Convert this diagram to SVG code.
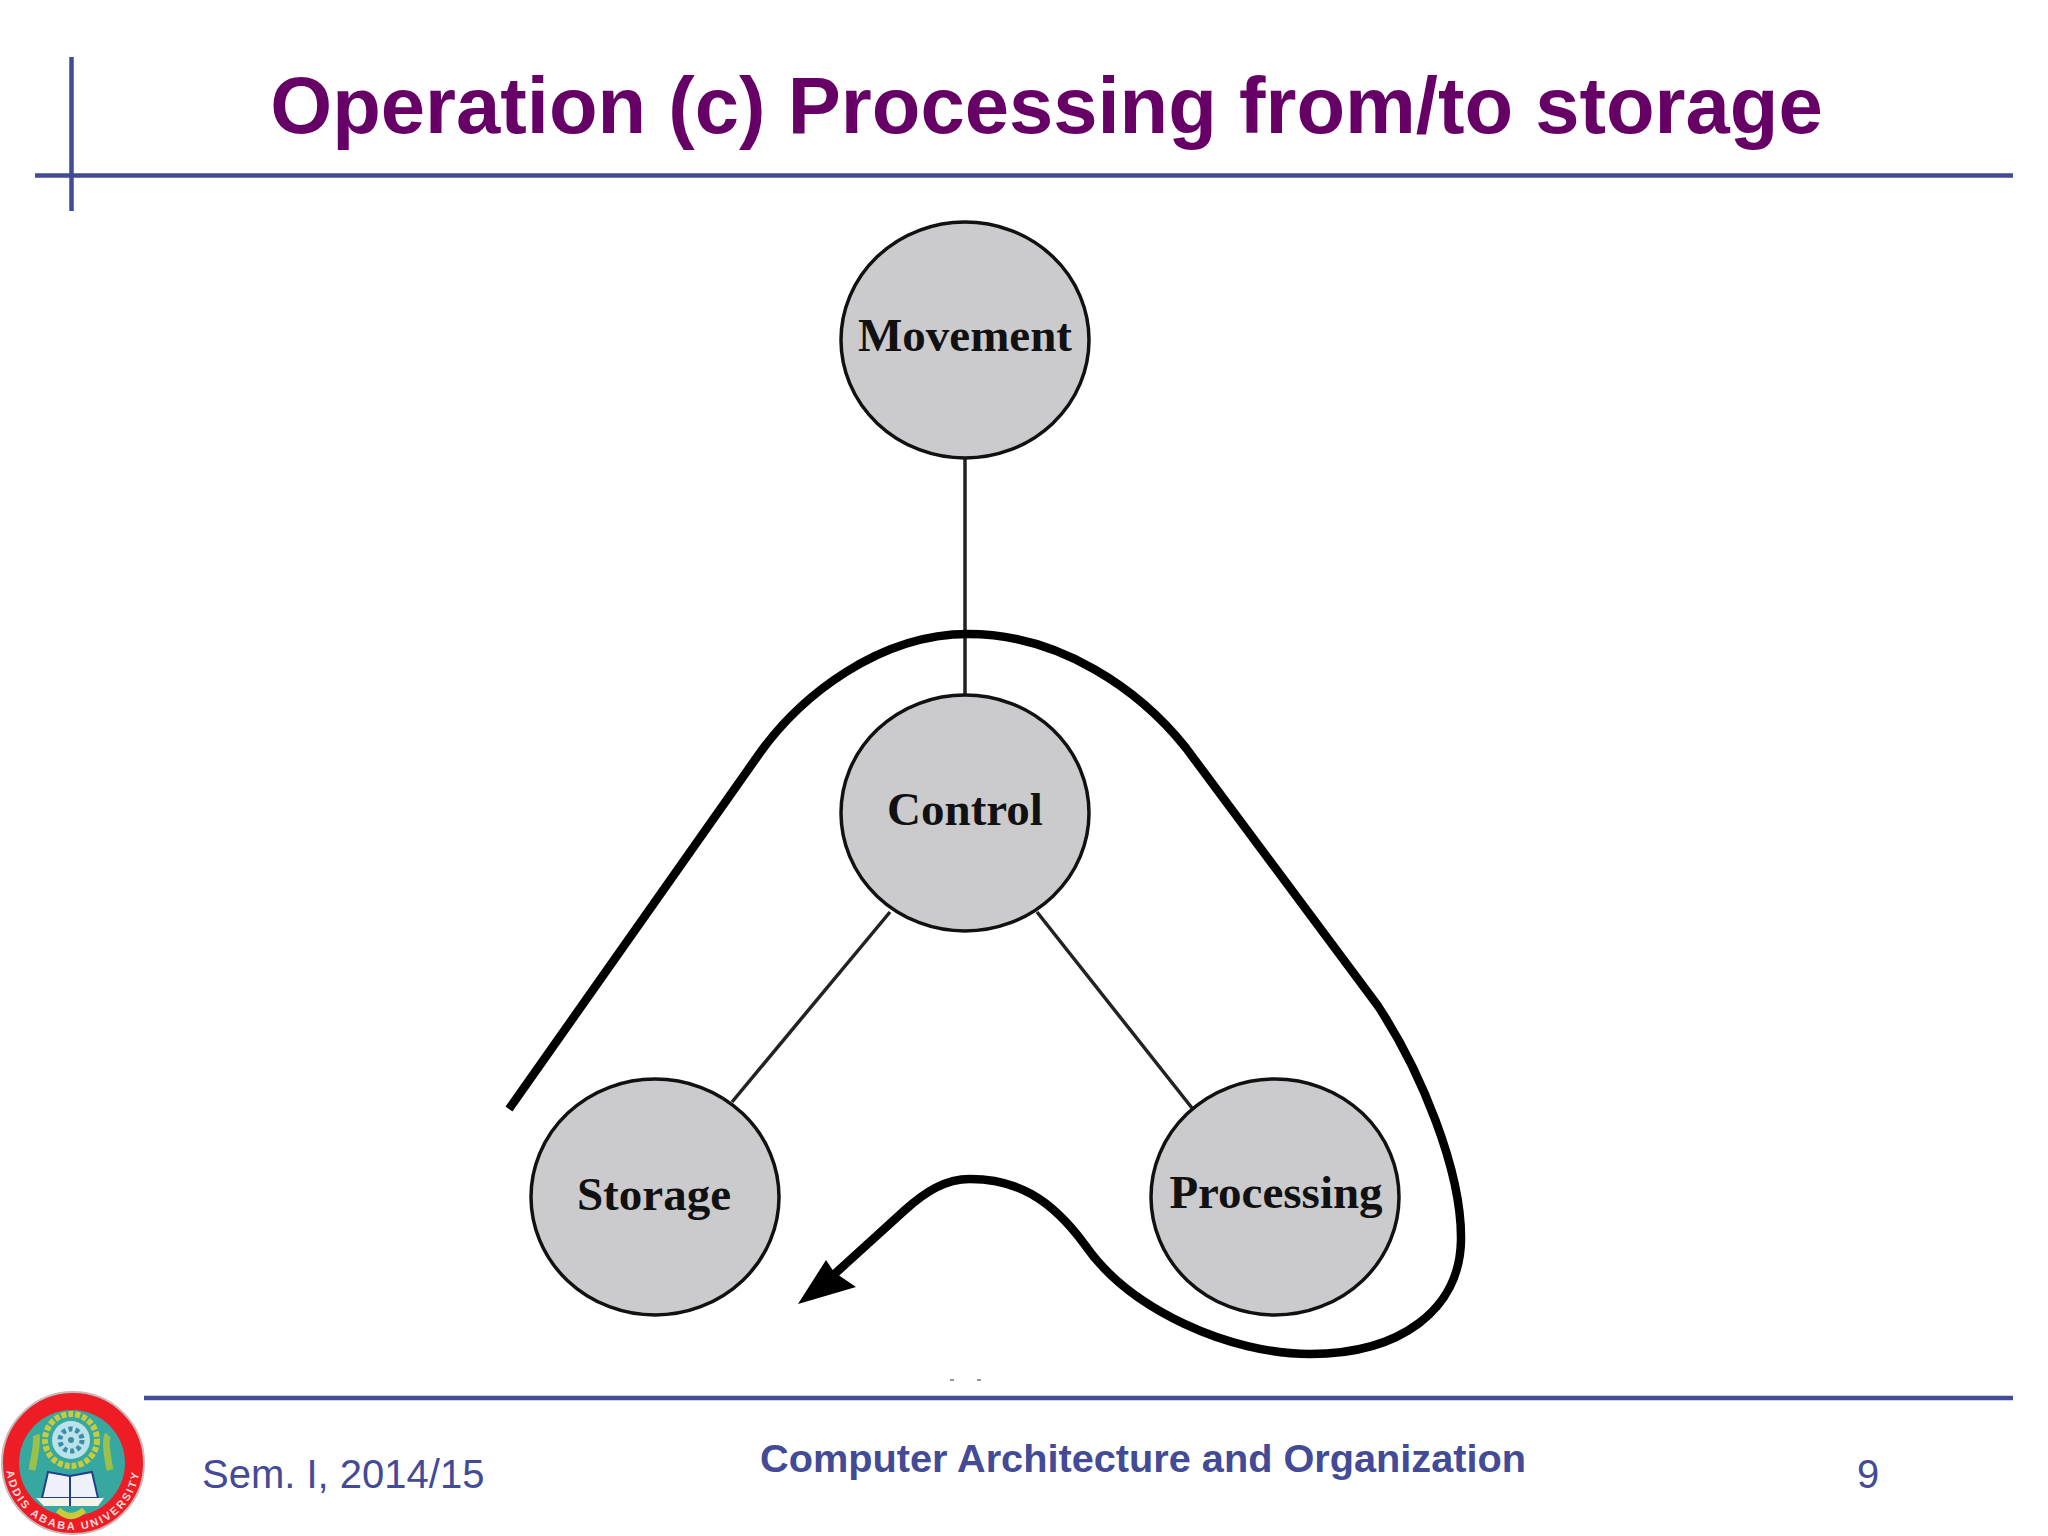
<svg xmlns="http://www.w3.org/2000/svg" width="2048" height="1536" viewBox="0 0 2048 1536">
<style>
.rule{stroke:#434a96;stroke-width:4.500;fill:none}
.node{fill:#cbcbcd;stroke:#111;stroke-width:3.500}
.lbl{font-family:"Liberation Serif",serif;font-weight:bold;font-size:47px;fill:#111;text-anchor:middle}
.foot{font-family:"Liberation Sans",Arial,sans-serif;font-size:40px;fill:#434a96}
.link{stroke:#222;fill:none}
</style>
<defs>
<path id="arcLow" d="M6 1463A67 67 0 0 0 140 1463"/>
</defs>
<rect width="2048" height="1536" fill="#fff"/>
<g id="frame">
<line class="rule" x1="71.500" y1="57" x2="71.500" y2="211"/>
<line class="rule" x1="35" y1="175.500" x2="2013" y2="175.500"/>
<line class="rule" x1="144" y1="1398" x2="2013" y2="1398"/>
</g>
<text id="title" x="1046.500" y="133" text-anchor="middle" font-family="'Liberation Sans',Arial,sans-serif" font-weight="bold" font-size="79.600" fill="#660066">Operation (c) Processing from/to storage</text>
<g id="connectors">
<line class="link" stroke-width="3.500" x1="965" y1="459" x2="965" y2="695"/>
<line class="link" stroke-width="3.500" x1="890" y1="912" x2="732" y2="1102"/>
<line class="link" stroke-width="3.500" x1="1037" y1="912" x2="1192" y2="1108"/>
<path fill="none" stroke="#000" stroke-width="8.500" d="M509 1109L757 757C800 695 880 634 968 634C1060 634 1140 690 1186 748L1378 1006C1420 1070 1462 1170 1461 1240C1460 1310 1400 1354 1310 1354C1230 1354 1130 1310 1085 1245C1050 1197 1015 1179 970 1179C945 1179 925 1192 905 1210L828 1280"/>
<path fill="#000" d="M798 1304L826 1260 834 1272 856 1287Z"/>
</g>
<g id="movement"><ellipse class="node" cx="965" cy="340" rx="124" ry="118"/><text class="lbl" x="965" y="351">Movement</text></g>
<g id="control"><ellipse class="node" cx="965" cy="813" rx="124" ry="118"/><text class="lbl" x="965" y="825">Control</text></g>
<g id="storage"><ellipse class="node" cx="655" cy="1197" rx="124" ry="118"/><text class="lbl" x="654" y="1210">Storage</text></g>
<g id="processing"><ellipse class="node" cx="1275" cy="1197" rx="124" ry="118"/><text class="lbl" x="1276" y="1208">Processing</text></g>
<g id="specks" fill="#999"><rect x="950" y="1379" width="4" height="2"/><rect x="977" y="1379" width="4" height="2"/></g>
<g id="logo">
<circle cx="73" cy="1463" r="71" fill="#ee1c25" stroke="#c9b8b8" stroke-width="2"/>
<circle cx="72" cy="1463" r="53" fill="#37a8a0"/>
<circle cx="71" cy="1440" r="26" fill="none" stroke="#c8cc3c" stroke-width="6" stroke-dasharray="5 2"/>
<circle cx="71" cy="1440" r="19" fill="#b9e2ea"/>
<circle cx="71" cy="1440" r="11" fill="none" stroke="#3c8ca8" stroke-width="5" stroke-dasharray="4 3"/>
<circle cx="71" cy="1440" r="3" fill="#3c8ca8"/>
<path d="M32 1470Q38 1440 36 1435M110 1470Q104 1440 108 1435" stroke="#9cc04a" stroke-width="7" fill="none"/>
<path d="M48 1472L70 1476 92 1472 98 1498H42Z" fill="#eef0fa" stroke="#23408c" stroke-width="2"/>
<path d="M36 1498H104L98 1506H44Z" fill="#f4f4ec"/>
<line x1="70" y1="1476" x2="70" y2="1506" stroke="#23408c" stroke-width="2"/>
<path d="M58 1510Q71 1522 84 1510" stroke="#c8cc3c" stroke-width="6" fill="none"/>
<text font-family="'Liberation Sans',Arial,sans-serif" font-weight="bold" font-size="11" fill="#f7dcdc" letter-spacing="2.200"><textPath href="#arcLow" startOffset="50%" text-anchor="middle">ADDIS ABABA UNIVERSITY</textPath></text>
</g>
<g id="footer">
<text class="foot" x="202" y="1488">Sem. I, 2014/15</text>
<text class="foot" x="1143" y="1472" text-anchor="middle" font-weight="bold" font-size="39.700" style="font-size:39.700px">Computer Architecture and Organization</text>
<text class="foot" x="1868" y="1488" text-anchor="middle">9</text>
</g>
</svg>
